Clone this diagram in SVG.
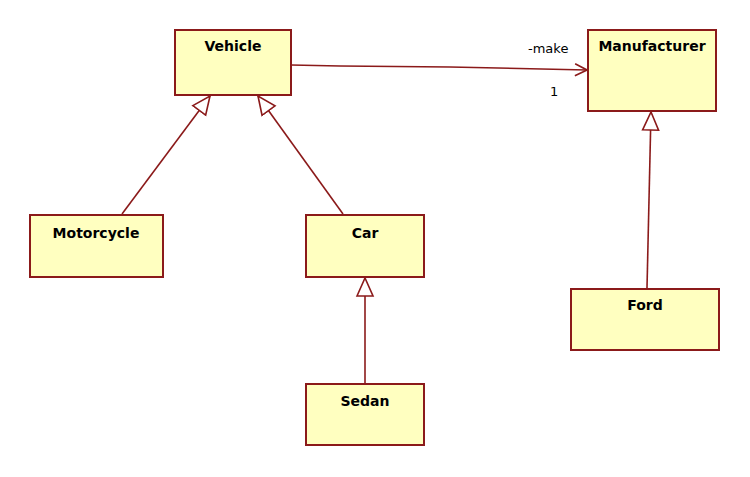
<svg xmlns="http://www.w3.org/2000/svg" width="750" height="477" viewBox="0 0 750 477">
<style>
.box{fill:#ffffc0;stroke:#8b1a1a;stroke-width:2}
.t{font-family:"DejaVu Sans",sans-serif;font-weight:bold;font-size:14px;text-anchor:middle;fill:#000}
.l{font-family:"DejaVu Sans",sans-serif;font-size:13px;fill:#000}
.c{stroke:#8b1a1a;stroke-width:1.6;fill:none}
</style>
<defs>
<marker id="tri" viewBox="0 0 20 20" refX="19" refY="10" markerWidth="20" markerHeight="20" markerUnits="userSpaceOnUse" orient="auto">
<path d="M1,2 L19,10 L1,18 Z" fill="#fff" stroke="#8b1a1a" stroke-width="1.6"/>
</marker>
<marker id="open" viewBox="0 0 14 14" refX="13" refY="7" markerWidth="14" markerHeight="14" markerUnits="userSpaceOnUse" orient="auto">
<path d="M1,1 L13,7 L1,13" fill="none" stroke="#8b1a1a" stroke-width="1.6"/>
</marker>
</defs>
<g id="connectors">
<path class="c" d="M291,65 L340,66 L450,67 L587,70" marker-end="url(#open)"/>
<path class="c" d="M122,214 L210,96" marker-end="url(#tri)"/>
<path class="c" d="M343,214 L258,96" marker-end="url(#tri)"/>
<path class="c" d="M365,383 L365,278" marker-end="url(#tri)"/>
<path class="c" d="M647,288 L651,112" marker-end="url(#tri)"/>
<text class="l" x="528" y="53">-make</text>
<text class="l" x="550" y="96">1</text>
</g>
<g id="vehicle"><rect class="box" x="175" y="30" width="116" height="65"/><text class="t" x="233" y="51">Vehicle</text></g>
<g id="manufacturer"><rect class="box" x="588" y="30" width="128" height="81"/><text class="t" x="652" y="51">Manufacturer</text></g>
<g id="motorcycle"><rect class="box" x="30" y="215" width="133" height="62"/><text class="t" x="96" y="238">Motorcycle</text></g>
<g id="car"><rect class="box" x="306" y="215" width="118" height="62"/><text class="t" x="365" y="238">Car</text></g>
<g id="sedan"><rect class="box" x="306" y="384" width="118" height="61"/><text class="t" x="365" y="406">Sedan</text></g>
<g id="ford"><rect class="box" x="571" y="289" width="148" height="61"/><text class="t" x="645" y="310">Ford</text></g>
</svg>
